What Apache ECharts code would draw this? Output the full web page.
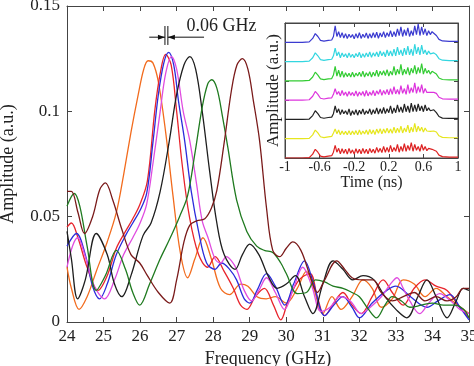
<!DOCTYPE html>
<html>
<head>
<meta charset="utf-8">
<script src="https://cdn.jsdelivr.net/npm/echarts@6/dist/echarts.min.js"></script>
<style>
html, body { margin: 0; padding: 0; background: #fff; }
#chart { width: 474px; height: 366px; }
</style>
</head>
<body>
<div id="chart"></div>
<script>
// main spectra: [frequency GHz, amplitude]
var orangeSpec = [[24.0,0.026],[24.12,0.016],[24.33,0.006],[24.55,0.012],[24.8,0.024],[25.1,0.038],[25.35,0.052],[25.55,0.07],[25.75,0.09],[25.95,0.108],[26.1,0.12],[26.22,0.124],[26.35,0.123],[26.5,0.114],[26.7,0.09],[26.9,0.06],[27.1,0.033],[27.3,0.021],[27.5,0.03],[27.72,0.04],[27.95,0.03],[28.2,0.016],[28.45,0.013],[28.75,0.018],[28.95,0.017],[29.2,0.012],[29.45,0.011],[29.7,0.012],[30.0,0.009],[30.3,0.016],[30.55,0.024],[30.75,0.016],[31.0,0.004],[31.25,0.012],[31.5,0.006],[31.8,0.012],[32.1,0.02],[32.35,0.016],[32.6,0.007],[32.9,0.011],[33.2,0.02],[33.5,0.018],[33.8,0.012],[34.1,0.016],[34.4,0.012],[34.7,0.008],[35.0,0.004]];
var redSpec = [[24.0,0.045],[24.12,0.047],[24.3,0.04],[24.55,0.026],[24.85,0.015],[25.1,0.022],[25.35,0.035],[25.6,0.043],[25.8,0.049],[26.0,0.056],[26.2,0.067],[26.4,0.1],[26.55,0.118],[26.7,0.127],[26.85,0.122],[27.0,0.1],[27.15,0.075],[27.35,0.05],[27.6,0.032],[27.85,0.026],[28.05,0.031],[28.3,0.024],[28.55,0.016],[28.75,0.008],[28.92,0.006],[29.15,0.012],[29.4,0.016],[29.65,0.008],[29.85,0.001],[30.05,0.01],[30.35,0.02],[30.65,0.023],[30.85,0.012],[31.05,0.003],[31.3,0.009],[31.55,0.014],[31.8,0.008],[32.05,0.004],[32.35,0.012],[32.65,0.02],[32.9,0.014],[33.2,0.008],[33.5,0.016],[33.8,0.02],[34.1,0.017],[34.4,0.015],[34.7,0.008],[35.0,0.002]];
var blueSpec = [[24.0,0.036],[24.26,0.042],[24.5,0.032],[24.7,0.017],[24.89,0.011],[25.1,0.018],[25.35,0.032],[25.6,0.041],[25.8,0.047],[26.0,0.053],[26.18,0.061],[26.35,0.085],[26.5,0.108],[26.65,0.123],[26.78,0.128],[26.92,0.122],[27.05,0.105],[27.22,0.086],[27.4,0.062],[27.6,0.043],[27.82,0.028],[28.05,0.025],[28.23,0.028],[28.45,0.025],[28.64,0.02],[28.85,0.011],[29.0,0.009],[29.2,0.015],[29.46,0.023],[29.7,0.017],[29.96,0.008],[30.2,0.018],[30.5,0.029],[30.75,0.018],[31.05,0.003],[31.3,0.008],[31.55,0.012],[31.8,0.007],[32.0,0.002],[32.35,0.009],[32.75,0.015],[33.0,0.017],[33.4,0.012],[33.85,0.007],[34.15,0.01],[34.48,0.013],[34.75,0.007],[35.0,0.001]];
var magentaSpec = [[24.0,0.026],[24.15,0.036],[24.29,0.04],[24.5,0.031],[24.75,0.017],[25.03,0.011],[25.3,0.02],[25.55,0.032],[25.8,0.04],[26.0,0.047],[26.18,0.056],[26.35,0.075],[26.55,0.1],[26.7,0.118],[26.86,0.126],[27.0,0.12],[27.18,0.1],[27.36,0.086],[27.55,0.065],[27.7,0.048],[27.86,0.04],[28.05,0.03],[28.2,0.028],[28.36,0.031],[28.5,0.029],[28.64,0.025],[28.85,0.015],[29.05,0.01],[29.25,0.015],[29.46,0.021],[29.7,0.014],[29.95,0.006],[30.2,0.016],[30.45,0.026],[30.7,0.017],[30.95,0.005],[31.2,0.007],[31.46,0.012],[31.75,0.01],[32.05,0.004],[32.3,0.007],[32.6,0.012],[32.85,0.018],[33.03,0.021],[33.2,0.016],[33.38,0.01],[33.65,0.004],[33.9,0.009],[34.2,0.0135],[34.5,0.01],[34.75,0.006],[35.0,0.004]];
var blackSpec = [[24.0,0.043],[24.12,0.03],[24.29,0.011],[24.5,0.02],[24.8,0.042],[25.1,0.032],[25.3,0.018],[25.5,0.012],[25.75,0.022],[26.08,0.041],[26.3,0.047],[26.55,0.062],[26.8,0.086],[27.0,0.108],[27.2,0.122],[27.36,0.126],[27.52,0.12],[27.7,0.1],[27.9,0.072],[28.1,0.047],[28.3,0.032],[28.6,0.025],[28.8,0.032],[29.0,0.037],[29.25,0.032],[29.5,0.022],[29.75,0.016],[30.0,0.018],[30.25,0.022],[30.5,0.012],[30.73,0.004],[31.0,0.018],[31.28,0.029],[31.55,0.025],[31.82,0.02],[32.1,0.022],[32.4,0.02],[32.7,0.012],[33.0,0.006],[33.3,0.002],[33.6,0.012],[33.85,0.02],[34.1,0.012],[34.4,0.002],[34.65,0.01],[34.84,0.016],[35.0,0.015]];
var greenSpec = [[24.0,0.055],[24.2,0.061],[24.35,0.055],[24.55,0.036],[24.8,0.015],[25.05,0.022],[25.35,0.034],[25.6,0.025],[25.8,0.014],[25.99,0.008],[26.26,0.018],[26.55,0.03],[26.8,0.039],[27.08,0.05],[27.3,0.06],[27.5,0.08],[27.7,0.102],[27.85,0.113],[27.96,0.115],[28.1,0.111],[28.25,0.098],[28.4,0.083],[28.64,0.058],[28.92,0.043],[29.19,0.036],[29.4,0.034],[29.63,0.033],[29.85,0.028],[30.0,0.023],[30.3,0.0135],[30.55,0.014],[30.8,0.02],[31.05,0.019],[31.28,0.017],[31.55,0.016],[31.8,0.014],[32.0,0.012],[32.25,0.006],[32.47,0.002],[32.7,0.008],[32.9,0.012],[33.15,0.01],[33.38,0.007],[33.7,0.008],[34.0,0.009],[34.3,0.008],[34.6,0.008],[34.85,0.006],[35.0,0.002]];
var brownSpec = [[24.0,0.062],[24.12,0.062],[24.3,0.052],[24.48,0.042],[24.7,0.05],[24.9,0.063],[25.05,0.066],[25.25,0.058],[25.5,0.044],[25.75,0.032],[25.99,0.028],[26.2,0.022],[26.5,0.014],[26.81,0.009],[27.0,0.02],[27.2,0.038],[27.36,0.046],[27.55,0.048],[27.77,0.049],[27.95,0.054],[28.1,0.0625],[28.3,0.085],[28.5,0.11],[28.65,0.122],[28.8,0.125],[28.95,0.12],[29.1,0.105],[29.27,0.086],[29.46,0.054],[29.63,0.034],[29.82,0.031],[30.0,0.035],[30.18,0.038],[30.4,0.034],[30.65,0.022],[30.85,0.014],[31.05,0.02],[31.38,0.029],[31.6,0.025],[31.8,0.021],[32.1,0.02],[32.37,0.02],[32.6,0.014],[32.9,0.01],[33.2,0.012],[33.5,0.014],[33.8,0.01],[34.1,0.012],[34.4,0.01],[34.65,0.012],[34.84,0.016],[35.0,0.016]];

// inset time traces (ns), each stacked one unit above the previous
var tHead = [-1, -0.8, -0.72, -0.68, -0.65, -0.62, -0.59, -0.55, -0.5, -0.46, -0.44];
var tBody = [-0.42,-0.40,-0.38,-0.36,-0.34,-0.32,-0.30,-0.28,-0.26,-0.24,
             -0.22,-0.20,-0.18,-0.16,-0.14,-0.12,-0.10,-0.08,-0.06,-0.04,
             -0.02,0,0.02,0.04,0.06,0.08,0.10,0.12,0.14,0.16,
             0.18,0.20,0.22,0.24,0.26,0.28,0.30,0.32,0.34,0.36,
             0.38,0.40,0.42,0.44,0.46,0.48,0.50,0.52,0.54,0.56,
             0.58,0.60,0.62,0.64,0.66,0.68,0.70,0.72];
var tTail = [0.75, 0.78, 0.82, 0.9, 1];
var pulseHead = [0, 0, 0.02, 0.2, 0.45, 0.3, 0.1, 0.06, 0.1, 0.12, 0.3];
var pulseTail = [0.35, 0.15, 0.07, 0.05, 0.05];

var redBody = [0.65,0.3,0.5,0.22,0.48,0.25,0.45,0.2,0.5,0.25,
  0.42,0.2,0.48,0.25,0.45,0.22,0.5,0.25,0.45,0.22,
  0.5,0.28,0.45,0.25,0.55,0.3,0.5,0.28,0.6,0.3,
  0.55,0.3,0.65,0.32,0.55,0.35,0.7,0.3,0.6,0.35,
  0.75,0.35,0.65,0.4,0.8,0.35,0.7,0.4,0.6,0.35,
  0.7,0.4,0.6,0.38,0.5,0.4,0.45,0.4];
var yellowBody = [0.5,0.25,0.45,0.2,0.4,0.22,0.38,0.2,0.42,0.2,
  0.4,0.22,0.42,0.2,0.45,0.22,0.4,0.25,0.45,0.22,
  0.48,0.25,0.45,0.22,0.5,0.28,0.52,0.25,0.5,0.3,
  0.55,0.3,0.5,0.28,0.6,0.3,0.55,0.32,0.65,0.3,
  0.55,0.35,0.7,0.3,0.6,0.35,0.8,0.35,0.65,0.4,
  0.6,0.35,0.55,0.4,0.5,0.38,0.45,0.4];
var blackBody = [0.7,0.35,0.55,0.25,0.5,0.3,0.45,0.25,0.55,0.2,
  0.45,0.25,0.5,0.22,0.48,0.28,0.55,0.25,0.45,0.3,
  0.55,0.25,0.5,0.3,0.6,0.28,0.55,0.3,0.62,0.3,
  0.55,0.35,0.7,0.3,0.6,0.35,0.75,0.38,0.65,0.35,
  0.8,0.4,0.7,0.35,0.85,0.4,0.75,0.4,0.8,0.45,
  0.7,0.4,0.75,0.45,0.6,0.45,0.55,0.5];
var magentaBody = [0.6,0.3,0.45,0.22,0.5,0.25,0.42,0.2,0.45,0.25,
  0.4,0.22,0.48,0.2,0.42,0.25,0.45,0.2,0.5,0.22,
  0.42,0.25,0.5,0.22,0.48,0.3,0.55,0.25,0.5,0.3,
  0.55,0.28,0.6,0.3,0.7,0.32,0.55,0.3,0.75,0.35,
  0.6,0.3,0.8,0.35,0.65,0.4,0.9,0.35,0.7,0.4,
  0.8,0.35,0.6,0.4,0.5,0.4,0.45,0.4];
var greenBody = [0.75,0.25,0.55,0.2,0.5,0.18,0.42,0.22,0.4,0.2,
  0.45,0.2,0.4,0.25,0.45,0.22,0.5,0.2,0.42,0.25,
  0.48,0.2,0.45,0.25,0.55,0.22,0.5,0.3,0.52,0.28,
  0.58,0.25,0.5,0.3,0.75,0.3,0.6,0.35,0.85,0.3,
  0.6,0.35,0.7,0.3,0.65,0.4,0.8,0.35,0.7,0.4,
  0.9,0.35,0.65,0.4,0.55,0.35,0.5,0.42];
var cyanBody = [0.7,0.3,0.5,0.2,0.45,0.25,0.4,0.2,0.45,0.22,
  0.38,0.2,0.42,0.25,0.48,0.2,0.4,0.22,0.45,0.25,
  0.5,0.22,0.45,0.28,0.5,0.25,0.55,0.3,0.5,0.25,
  0.6,0.3,0.55,0.28,0.65,0.3,0.75,0.35,0.6,0.3,
  0.7,0.35,0.8,0.35,0.65,0.3,0.9,0.4,0.75,0.35,
  0.85,0.4,0.6,0.35,0.55,0.4,0.5,0.45];
var blueBody = [0.85,0.3,0.55,0.25,0.5,0.22,0.45,0.2,0.42,0.25,
  0.4,0.18,0.45,0.22,0.5,0.2,0.42,0.25,0.48,0.2,
  0.45,0.22,0.5,0.25,0.52,0.2,0.48,0.28,0.55,0.25,
  0.5,0.3,0.6,0.28,0.55,0.3,0.7,0.35,0.8,0.3,
  0.65,0.35,0.75,0.3,0.6,0.35,0.85,0.4,0.95,0.35,
  0.8,0.4,0.7,0.35,0.6,0.4,0.55,0.45];

// annotation "0.06 GHz" in data units
var annoPeaks = [26.68, 26.76];
var annoArrowY = 0.1352;
var annoLineTop = 0.1405, annoLineBottom = 0.1315;
var annoArrowFrom = 26.25, annoArrowTo = 27.75;
var annoText = '0.06 GHz', annoTextAt = [27.27, 0.1402];

var FONT = '"Liberation Serif", "Times New Roman", serif';
var INK = '#222';

var chart = echarts.init(document.getElementById('chart'));

function frameAxis(grid, pos, extra) {
  var a = {
    gridIndex: grid, type: 'value', position: pos,
    axisLine: { onZero: false, lineStyle: { color: '#444', width: 1 } },
    axisTick: { inside: true, length: 5, lineStyle: { color: '#444' } },
    axisLabel: { show: false },
    splitLine: { show: false }
  };
  return Object.assign(a, extra);
}

var mainLines = [
  { name: 'orange', color: '#f26b1d', data: orangeSpec },
  { name: 'red', color: '#e8242c', data: redSpec },
  { name: 'blue', color: '#2b2bdb', data: blueSpec },
  { name: 'magenta', color: '#e04ce0', data: magentaSpec },
  { name: 'black', color: '#1e1e1e', data: blackSpec },
  { name: 'green', color: '#1f7a1f', data: greenSpec },
  { name: 'brown', color: '#7a1a1a', data: brownSpec }
];

var insetLines = [
  { name: 'red', color: '#dd2222', body: redBody },
  { name: 'yellow', color: '#e6e61e', body: yellowBody },
  { name: 'black', color: '#222222', body: blackBody },
  { name: 'magenta', color: '#dd33dd', body: magentaBody },
  { name: 'green', color: '#33cc33', body: greenBody },
  { name: 'cyan', color: '#33d6e0', body: cyanBody },
  { name: 'blue', color: '#3b3bd0', body: blueBody }
];

var series = [];
mainLines.forEach(function (s) {
  series.push({
    name: s.name, type: 'line', xAxisIndex: 0, yAxisIndex: 0,
    data: s.data, smooth: 0.35, showSymbol: false, silent: true,
    lineStyle: { color: s.color, width: 1.3 }, z: 2
  });
});

var tAll = tHead.concat(tBody, tTail);
insetLines.forEach(function (s, k) {
  var vals = pulseHead.concat(s.body, pulseTail);
  var pts = tAll.map(function (t, i) { return [t, k + vals[i]]; });
  series.push({
    name: 'inset-' + s.name, type: 'line', xAxisIndex: 2, yAxisIndex: 2,
    data: pts, showSymbol: false, silent: true,
    lineStyle: { color: s.color, width: 1.2 }, z: 12
  });
});

chart.setOption({
  animation: false,
  textStyle: { fontFamily: FONT },
  grid: [
    { left: 67, top: 6, width: 402, height: 316, outerBoundsMode: 'none', containLabel: false },
    { left: 285, top: 23, width: 173, height: 135, show: true, outerBoundsMode: 'none', containLabel: false,
      backgroundColor: '#fff', borderColor: '#444', borderWidth: 1, z: 10 }
  ],
  xAxis: [
    frameAxis(0, 'bottom', {
      min: 24, max: 35, interval: 1,
      axisLabel: { show: true, color: INK, fontSize: 17, fontFamily: FONT, margin: 6 },
      name: 'Frequency (GHz)', nameLocation: 'middle', nameGap: 28,
      nameTextStyle: { color: INK, fontSize: 18, fontFamily: FONT }
    }),
    frameAxis(0, 'top', { min: 24, max: 35, interval: 1 }),
    frameAxis(1, 'bottom', {
      min: -1, max: 1, interval: 0.4, z: 11,
      axisTick: { inside: true, length: 4, lineStyle: { color: '#444' } },
      axisLabel: { show: true, color: INK, fontSize: 14, fontFamily: FONT, margin: 2 },
      name: 'Time (ns)', nameLocation: 'middle', nameGap: 14,
      nameTextStyle: { color: INK, fontSize: 16, fontFamily: FONT }
    }),
    frameAxis(1, 'top', { min: -1, max: 1, interval: 0.4, z: 11,
      axisTick: { inside: true, length: 4, lineStyle: { color: '#444' } } })
  ],
  yAxis: [
    frameAxis(0, 'left', {
      min: 0, max: 0.15, interval: 0.05,
      axisLabel: { show: true, color: INK, fontSize: 17, fontFamily: FONT, margin: 7 },
      name: 'Amplitude (a.u.)', nameLocation: 'middle', nameGap: 50,
      nameTextStyle: { color: INK, fontSize: 18, fontFamily: FONT }
    }),
    frameAxis(0, 'right', { min: 0, max: 0.15, interval: 0.05 }),
    frameAxis(1, 'left', {
      min: 0, max: 7, interval: 1, z: 11,
      axisTick: { inside: true, length: 4, lineStyle: { color: '#444' } },
      name: 'Amplitude (a.u.)', nameLocation: 'middle', nameGap: 3,
      nameTextStyle: { color: INK, fontSize: 17, fontFamily: FONT }
    }),
    frameAxis(1, 'right', { min: 0, max: 7, interval: 1, z: 11,
      axisTick: { inside: true, length: 4, lineStyle: { color: '#444' } } })
  ],
  series: series
});

// annotation drawn through the main grid's coordinate conversion
function px(f, a) { return chart.convertToPixel({ gridIndex: 0 }, [f, a]); }
var pL = px(annoPeaks[0], annoArrowY), pR = px(annoPeaks[1], annoArrowY);
var aFrom = px(annoArrowFrom, annoArrowY), aTo = px(annoArrowTo, annoArrowY);
var txt = px(annoTextAt[0], annoTextAt[1]);
var g = [];
annoPeaks.forEach(function (f) {
  var t = px(f, annoLineTop), b = px(f, annoLineBottom);
  g.push({ type: 'line', shape: { x1: t[0], y1: t[1], x2: b[0], y2: b[1] },
    style: { stroke: '#111', lineWidth: 1 }, z: 20 });
});
g.push({ type: 'line', shape: { x1: aFrom[0], y1: aFrom[1], x2: pL[0], y2: pL[1] },
  style: { stroke: '#111', lineWidth: 1 }, z: 20 });
g.push({ type: 'polygon', shape: { points: [[pL[0], pL[1]], [pL[0] - 7, pL[1] - 2.5], [pL[0] - 7, pL[1] + 2.5]] },
  style: { fill: '#111' }, z: 20 });
g.push({ type: 'line', shape: { x1: aTo[0], y1: aTo[1], x2: pR[0], y2: pR[1] },
  style: { stroke: '#111', lineWidth: 1 }, z: 20 });
g.push({ type: 'polygon', shape: { points: [[pR[0], pR[1]], [pR[0] + 7, pR[1] - 2.5], [pR[0] + 7, pR[1] + 2.5]] },
  style: { fill: '#111' }, z: 20 });
g.push({ type: 'text', x: txt[0], y: txt[1],
  style: { text: annoText, fill: INK, font: '18px ' + FONT, textVerticalAlign: 'middle', verticalAlign: 'middle' }, z: 20 });
chart.setOption({ graphic: g });
</script>
</body>
</html>
